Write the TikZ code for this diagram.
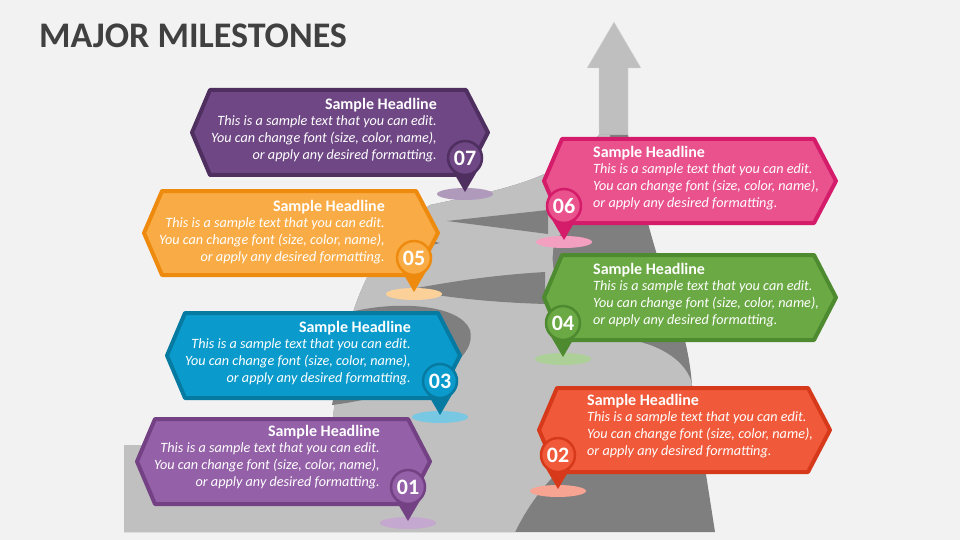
\documentclass[tikz,border=0pt]{standalone}
\usepackage{fontspec}
\setmainfont{Carlito}
\begin{document}
\begin{tikzpicture}[x=1pt,y=-1pt,
  road/.style={fill=roadlight,draw=none},
  headtxt/.style={font=\fontsize{16}{18}\selectfont\bfseries,text=white,inner sep=0pt},
  bodytxt/.style={font=\fontsize{14.2}{17}\selectfont\itshape,text=white,inner sep=0pt},
  numtxt/.style={font=\fontsize{22}{24}\selectfont\bfseries,text=white,inner sep=0pt}]
\definecolor{bg}{HTML}{F2F2F2}
\definecolor{roadlight}{HTML}{C0C0C0}
\definecolor{roaddark}{HTML}{7F7F7F}
\definecolor{arrowc}{HTML}{BFBFBF}
\fill[bg] (0,0) rectangle (960,540);
\useasboundingbox (0,0) rectangle (960,540);
\node[anchor=west,font=\fontsize{36}{38}\selectfont\bfseries,text=black!75,inner sep=0pt] (title) at (39,36) {MAJOR MILESTONES};
% arrow
\fill[arrowc,draw=white!85!black] (599,140) -- (599,68) -- (587,68) -- (614,22) -- (641,68) -- (628,68) -- (628,140) -- cycle;
% road silhouette
\fill[roaddark] (124,445) -- (330,445) .. controls (340,350) and (350,260) .. (430,205) .. controls (500,190) and (560,180) .. (599,135) -- (628,135) .. controls (640,200) and (655,250) .. (665,280) .. controls (685,330) and (690,360) .. (692,385) -- (715,532) -- (124,532) -- cycle;
\fill[road] (124,445) -- (330,445) .. controls (340,350) and (350,260) .. (430,205) .. controls (500,190) and (560,180) .. (599,135) -- (610,135) .. controls (608,190) and (580,215) .. (555,240) .. controls (540,300) and (600,330) .. (650,345) .. controls (690,360) and (692,385) .. (692,385) .. controls (640,420) and (560,440) .. (515,532) -- (124,532) -- cycle;
% shadows on road
\fill[roaddark] (332,405) .. controls (390,398) and (480,370) .. (470,330) .. controls (460,305) and (400,300) .. (350,312) -- cycle;
\fill[roaddark] (545,272) .. controls (480,276) and (440,284) .. (405,290) .. controls (440,296) and (480,302) .. (545,304) -- cycle;
\fill[roaddark] (365,228) .. controls (400,234) and (420,238) .. (440,243) .. controls (420,248) and (400,252) .. (365,258) -- cycle;
\fill[roaddark] (548,210) -- (447,221) -- (548,234) -- cycle;
% boxes
\newcommand{\milebox}[8]{%
 \pgfmathsetmacro{\mymid}{(#4+#5)/2}
 \draw[line width=4pt,fill=#6,draw=#7,line join=round] (#2+18,#4) -- (#3-22,#4) -- (#3,\mymid) -- (#3-22,#5) -- (#2+18,#5) -- (#2,\mymid) -- cycle;
 \coordinate (p#1) at (#8,#5-17);
 \fill[#6!55!white] (#8,#5+19) ellipse (28 and 6);
 \fill[#7] (#8-17,#5-12) -- (#8,#5+17) -- (#8+17,#5-12) -- cycle;
 \draw[fill=#6,draw=#7,line width=2.5pt] (p#1) circle (17);
 \node[numtxt] (n#1) at (p#1) {#1};
}
\definecolor{c7}{HTML}{6F4785}\definecolor{b7}{HTML}{4E2F60}
\definecolor{c5}{HTML}{F9AC46}\definecolor{b5}{HTML}{EE8A0E}
\definecolor{c3}{HTML}{0A9BCC}\definecolor{b3}{HTML}{077AA1}
\definecolor{c1}{HTML}{9460A7}\definecolor{b1}{HTML}{744284}
\definecolor{c6}{HTML}{E9528D}\definecolor{b6}{HTML}{D41C6A}
\definecolor{c4}{HTML}{6AA944}\definecolor{b4}{HTML}{4E8A2F}
\definecolor{c2}{HTML}{F05A3A}\definecolor{b2}{HTML}{D73A1B}
\milebox{07}{192}{488}{90}{175}{c7}{b7}{465}
\milebox{05}{144}{438}{191}{275}{c5}{b5}{414}
\milebox{03}{167}{460}{313}{398}{c3}{b3}{440}
\milebox{01}{137}{430}{419}{504}{c1}{b1}{408}
\milebox{06}{544}{836}{139}{223}{c6}{b6}{564}
\milebox{04}{544}{836}{255}{340}{c4}{b4}{563}
\milebox{02}{539}{830}{388}{472}{c2}{b2}{558}
% texts
\newcommand{\ltxt}[3]{%
 \node[headtxt,anchor=east] (h#1) at (#2,#3) {Sample Headline};
 \node[bodytxt,anchor=north east,align=right] (t#1) at (#2,#3+10) {This is a sample text that you can edit.\\You can change font (size, color, name),\\or apply any desired formatting.};
}
\newcommand{\rtxt}[3]{%
 \node[headtxt,anchor=west] (h#1) at (#2,#3) {Sample Headline};
 \node[bodytxt,anchor=north west,align=left] (t#1) at (#2,#3+10) {This is a sample text that you can edit.\\You can change font (size, color, name),\\or apply any desired formatting.};
}
\ltxt{7}{437}{105}
\ltxt{5}{385}{207}
\ltxt{3}{411}{328}
\ltxt{1}{380}{432}
\rtxt{6}{593}{153}
\rtxt{4}{593}{270}
\rtxt{2}{587}{401}
\end{tikzpicture}
\end{document}
